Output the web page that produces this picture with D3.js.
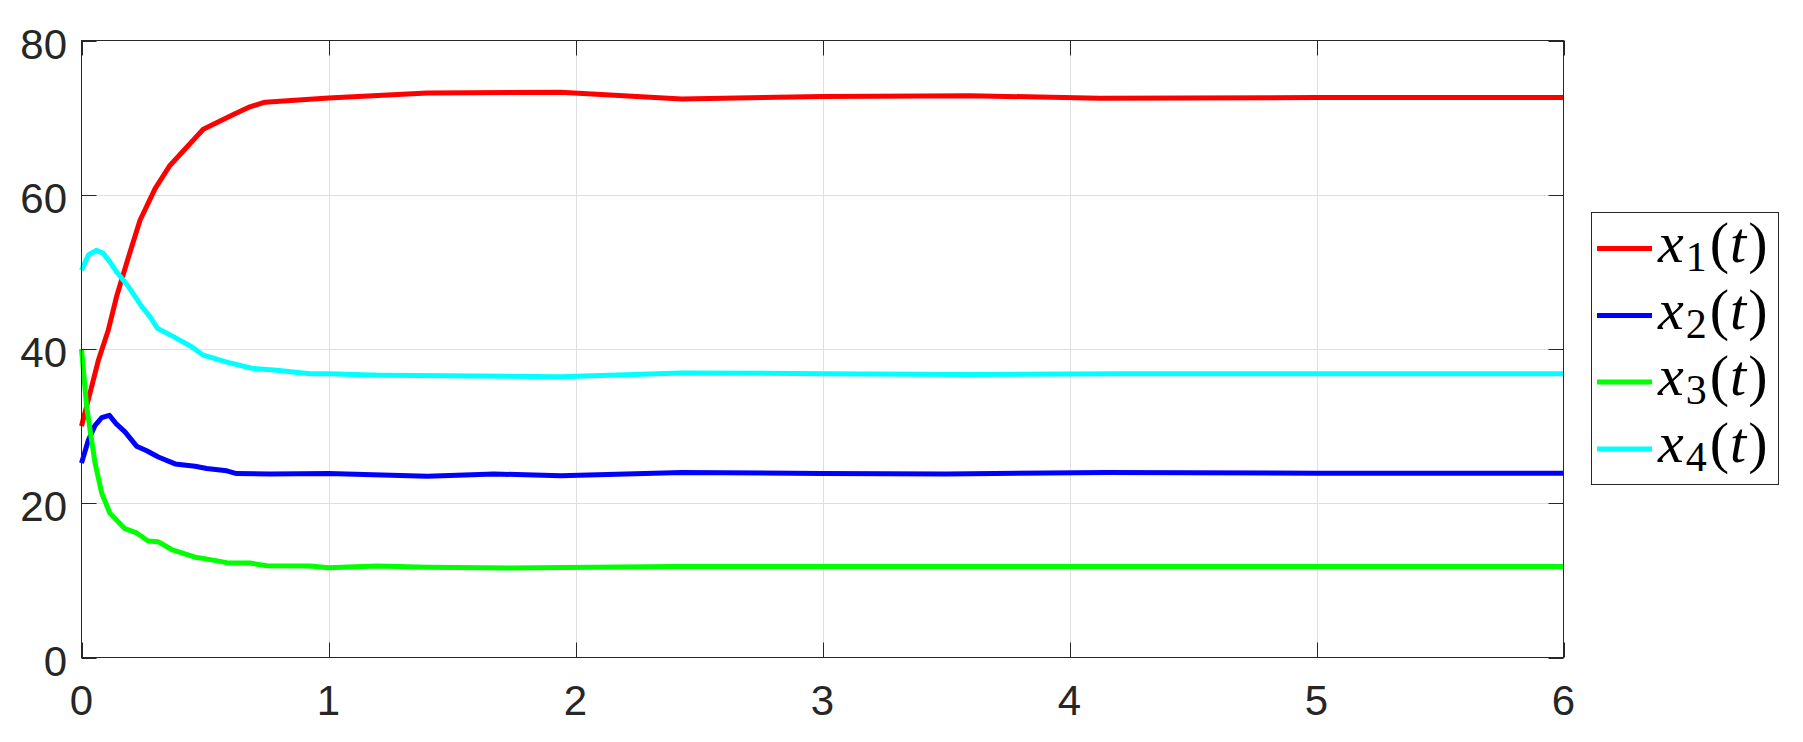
<!DOCTYPE html>
<html lang="en">
<head>
  <meta charset="UTF-8" />
  <title>x(t) trajectories</title>
  <script src="https://d3js.org/d3.v7.min.js"></script>
  <style>
    body {
      margin: 0;
      background: #fff;
    }
    svg {
      display: block;
    }
    .tick-label {
      font: 42px 'Liberation Sans', Arial, sans-serif;
      fill: #262626;
    }
    .grid line {
      stroke: #dfdfdf;
      stroke-width: 1;
    }
    .legend-text {
      font-family: 'Liberation Serif', 'Times New Roman', serif;
      font-size: 58px;
      fill: #000;
    }
  </style>
</head>
<body>
  <svg id="chart" width="1803" height="742"></svg>

  <script>
    // values
    const xTicks = [0, 1, 2, 3, 4, 5, 6];
    const yTicks = [0, 20, 40, 60, 80];

    const x1Time = [0, 0.068, 0.108, 0.142, 0.19, 0.237, 0.298, 0.358, 0.493, 0.615, 0.682, 0.743, 1.0, 1.4, 1.94, 2.43, 3.0, 3.6, 4.12, 5.0, 6.0];
    const x1Vals = [30, 38.5, 42.4, 46.8, 51.9, 56.7, 60.8, 63.8, 68.5, 70.4, 71.4, 72.0, 72.55, 73.2, 73.3, 72.4, 72.75, 72.85, 72.5, 72.6, 72.6];

    const x2Time = [0, 0.028, 0.055, 0.082, 0.113, 0.142, 0.176, 0.223, 0.264, 0.311, 0.379, 0.46, 0.507, 0.588, 0.628, 0.763, 1.0, 1.4, 1.67, 1.94, 2.43, 3.0, 3.5, 4.15, 5.0, 6.0];
    const x2Vals = [25.2, 28.2, 30.1, 31.1, 31.4, 30.25, 29.25, 27.4, 26.8, 26.0, 25.1, 24.8, 24.5, 24.2, 23.85, 23.8, 23.85, 23.5, 23.8, 23.55, 24.0, 23.85, 23.8, 24.0, 23.9, 23.9];

    const x3Time = [0, 0.021, 0.037, 0.055, 0.082, 0.115, 0.176, 0.223, 0.27, 0.311, 0.365, 0.46, 0.493, 0.588, 0.682, 0.75, 0.925, 1.0, 1.195, 1.4, 1.735, 2.4, 3.0, 4.0, 5.0, 6.0];
    const x3Vals = [40, 32.5, 29.0, 25.2, 21.3, 18.7, 16.7, 16.15, 15.1, 15.0, 14.0, 13.0, 12.85, 12.3, 12.25, 11.9, 11.85, 11.65, 11.85, 11.7, 11.6, 11.8, 11.8, 11.8, 11.8, 11.8];

    const x4Time = [0, 0.028, 0.061, 0.088, 0.115, 0.142, 0.19, 0.244, 0.277, 0.307, 0.372, 0.446, 0.493, 0.588, 0.689, 0.79, 0.925, 1.0, 1.206, 1.94, 2.43, 3.0, 3.6, 4.2, 5.0, 6.0];
    const x4Vals = [50.2, 52.2, 52.8, 52.4, 51.3, 50.0, 48.1, 45.5, 44.2, 42.7, 41.6, 40.3, 39.2, 38.3, 37.5, 37.25, 36.8, 36.8, 36.6, 36.4, 36.9, 36.8, 36.7, 36.8, 36.8, 36.8];

    const seriesNames = ["1", "2", "3", "4"];
    const seriesColors = ["#ff0000", "#0000ff", "#00ff00", "#00ffff"];

    const series = [
      { t: x1Time, v: x1Vals },
      { t: x2Time, v: x2Vals },
      { t: x3Time, v: x3Vals },
      { t: x4Time, v: x4Vals }
    ];

    const plotL = 81.5, plotR = 1563.5, plotT = 40.5, plotB = 657.5;
    const tickLen = 15;

    const svg = d3.select("#chart");
    const x = d3.scaleLinear().domain([0, 6]).range([plotL, plotR]);
    const y = d3.scaleLinear().domain([0, 80]).range([plotB, plotT]);

    // grid
    const grid = svg.append("g").attr("class", "grid");
    grid.selectAll("line.gx")
      .data(xTicks.slice(1, -1))
      .join("line")
      .attr("class", "gx")
      .attr("x1", d => Math.round(x(d)) + 0.5).attr("x2", d => Math.round(x(d)) + 0.5)
      .attr("y1", plotT).attr("y2", plotB);
    grid.selectAll("line.gy")
      .data(yTicks.slice(1, -1))
      .join("line")
      .attr("class", "gy")
      .attr("x1", plotL).attr("x2", plotR)
      .attr("y1", d => Math.round(y(d)) + 0.5).attr("y2", d => Math.round(y(d)) + 0.5);

    // data lines
    const line = d3.line().x(d => x(d[0])).y(d => y(d[1]));
    svg.append("g")
      .selectAll("path")
      .data(series)
      .join("path")
      .attr("fill", "none")
      .attr("stroke", (d, i) => seriesColors[i])
      .attr("stroke-width", 5)
      .attr("stroke-linejoin", "round")
      .attr("d", d => line(d.t.map((t, i) => [t, d.v[i]])));

    // box + ticks
    const axes = svg.append("g").attr("stroke", "#262626").attr("stroke-width", 1);
    axes.append("rect")
      .attr("x", plotL).attr("y", plotT)
      .attr("width", plotR - plotL).attr("height", plotB - plotT)
      .attr("fill", "none");

    xTicks.forEach(d => {
      const px = Math.round(x(d)) + 0.5;
      axes.append("line").attr("x1", px).attr("x2", px).attr("y1", plotB).attr("y2", plotB - tickLen);
      axes.append("line").attr("x1", px).attr("x2", px).attr("y1", plotT).attr("y2", plotT + tickLen);
    });
    yTicks.forEach(d => {
      const py = Math.round(y(d)) + 0.5;
      axes.append("line").attr("x1", plotL).attr("x2", plotL + tickLen).attr("y1", py).attr("y2", py);
      axes.append("line").attr("x1", plotR).attr("x2", plotR - tickLen).attr("y1", py).attr("y2", py);
    });

    // tick labels
    svg.append("g")
      .selectAll("text")
      .data(xTicks)
      .join("text")
      .attr("class", "tick-label")
      .attr("text-anchor", "middle")
      .attr("x", d => x(d))
      .attr("y", 715)
      .text(d => d);

    svg.append("g")
      .selectAll("text")
      .data(yTicks)
      .join("text")
      .attr("class", "tick-label")
      .attr("text-anchor", "end")
      .attr("x", 67)
      .attr("y", d => y(d) + 18)
      .text(d => d);

    // legend
    const legend = svg.append("g");
    legend.append("rect")
      .attr("x", 1591.5).attr("y", 212.5)
      .attr("width", 187).attr("height", 272)
      .attr("fill", "#fff")
      .attr("stroke", "#262626");

    const rowY = [248.5, 315.5, 382, 449];
    seriesNames.forEach((name, i) => {
      legend.append("line")
        .attr("x1", 1597).attr("x2", 1652)
        .attr("y1", rowY[i]).attr("y2", rowY[i])
        .attr("stroke", seriesColors[i])
        .attr("stroke-width", 5);

      const txt = legend.append("text")
        .attr("class", "legend-text")
        .attr("x", 1658)
        .attr("y", rowY[i] + 13);
      txt.append("tspan").attr("font-style", "italic").text("x");
      txt.append("tspan").attr("font-size", 42).attr("dy", 9).attr("dx", 2).text(name);
      txt.append("tspan").attr("dy", -9).attr("dx", 3).text("(");
      txt.append("tspan").attr("font-style", "italic").attr("dx", 1).text("t");
      txt.append("tspan").attr("dx", 2).text(")");
    });
  </script>
</body>
</html>
